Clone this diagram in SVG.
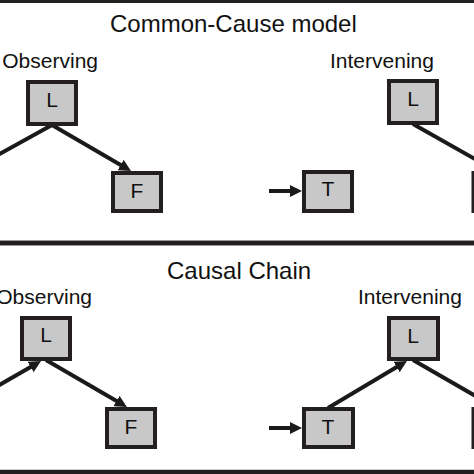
<svg xmlns="http://www.w3.org/2000/svg" width="474" height="474" viewBox="0 0 474 474">
<style>
.box{fill:#c8c8c8;stroke:#231f20;stroke-width:4}
.lbl{font-family:"Liberation Sans",Arial,sans-serif;font-size:21px;fill:#111;text-anchor:middle}
.head{font-family:"Liberation Sans",Arial,sans-serif;font-size:21px;fill:#111}
.title{font-family:"Liberation Sans",Arial,sans-serif;font-size:24px;fill:#111}
.edge{stroke:#1a1a1a;stroke-width:4;fill:none}
.rule{stroke:#231f20;stroke-width:4}
</style>
<defs>
<marker id="ah" markerWidth="12" markerHeight="12" refX="4" refY="6" orient="auto" markerUnits="userSpaceOnUse">
<path d="M0,0 L12,6 L0,12 z" fill="#1a1a1a"/>
</marker>
</defs>
<rect width="474" height="474" fill="#fff"/>
<g id="rules">
<rect x="0" y="0" width="474" height="3" fill="#231f20"/>
<line x1="0" y1="243" x2="474" y2="243" stroke="#9a9a9a" stroke-width="6"/>
<line class="rule" x1="0" y1="243" x2="474" y2="243"/>
<line x1="0" y1="472" x2="474" y2="472" stroke="#9a9a9a" stroke-width="5"/>
<line class="rule" x1="0" y1="472" x2="474" y2="472"/>
</g>
<g id="titles">
<text class="title" x="110" y="32">Common-Cause model</text>
<text class="title" x="167" y="279">Causal Chain</text>
<text class="head" x="98" y="68" text-anchor="end">Observing</text>
<text class="head" x="330" y="68">Intervening</text>
<text class="head" x="92" y="304" text-anchor="end">Observing</text>
<text class="head" x="358" y="304">Intervening</text>
</g>
<g id="connectors">
<line class="edge" x1="52" y1="125" x2="-33" y2="172"/>
<line class="edge" x1="52" y1="125" x2="124.1" y2="167" marker-end="url(#ah)"/>
<line class="edge" x1="269" y1="191" x2="294" y2="191" marker-end="url(#ah)"/>
<line class="edge" x1="413" y1="124" x2="498" y2="172"/>
<line class="edge" x1="-39" y1="407" x2="34.1" y2="365" marker-end="url(#ah)"/>
<line class="edge" x1="46" y1="360" x2="120" y2="403" marker-end="url(#ah)"/>
<line class="edge" x1="269" y1="428" x2="294" y2="428" marker-end="url(#ah)"/>
<line class="edge" x1="328" y1="408" x2="400.1" y2="365" marker-end="url(#ah)"/>
<line class="edge" x1="413" y1="360" x2="498" y2="409"/>
</g>
<g id="node-L1"><rect class="box" x="28" y="82" width="48" height="42"/><text class="lbl" x="52" y="107">L</text></g>
<g id="node-F1"><rect class="box" x="113" y="173" width="48" height="38"/><text class="lbl" x="137" y="198">F</text></g>
<g id="node-T2"><rect class="box" x="304" y="172" width="48" height="39"/><text class="lbl" x="328" y="196">T</text></g>
<g id="node-L2"><rect class="box" x="389" y="81" width="48" height="42"/><text class="lbl" x="413" y="106">L</text></g>
<g id="node-F2"><rect class="box" x="473.5" y="173" width="48" height="38"/></g>
<g id="node-L3"><rect class="box" x="22" y="318" width="48" height="41"/><text class="lbl" x="46" y="342">L</text></g>
<g id="node-F3"><rect class="box" x="107" y="409" width="48" height="38"/><text class="lbl" x="131" y="434">F</text></g>
<g id="node-T4"><rect class="box" x="304" y="409" width="49" height="38"/><text class="lbl" x="328" y="434">T</text></g>
<g id="node-L4"><rect class="box" x="389" y="318" width="49" height="41"/><text class="lbl" x="413" y="343">L</text></g>
<g id="node-F4"><rect class="box" x="473.5" y="409" width="48" height="38"/></g>
</svg>
